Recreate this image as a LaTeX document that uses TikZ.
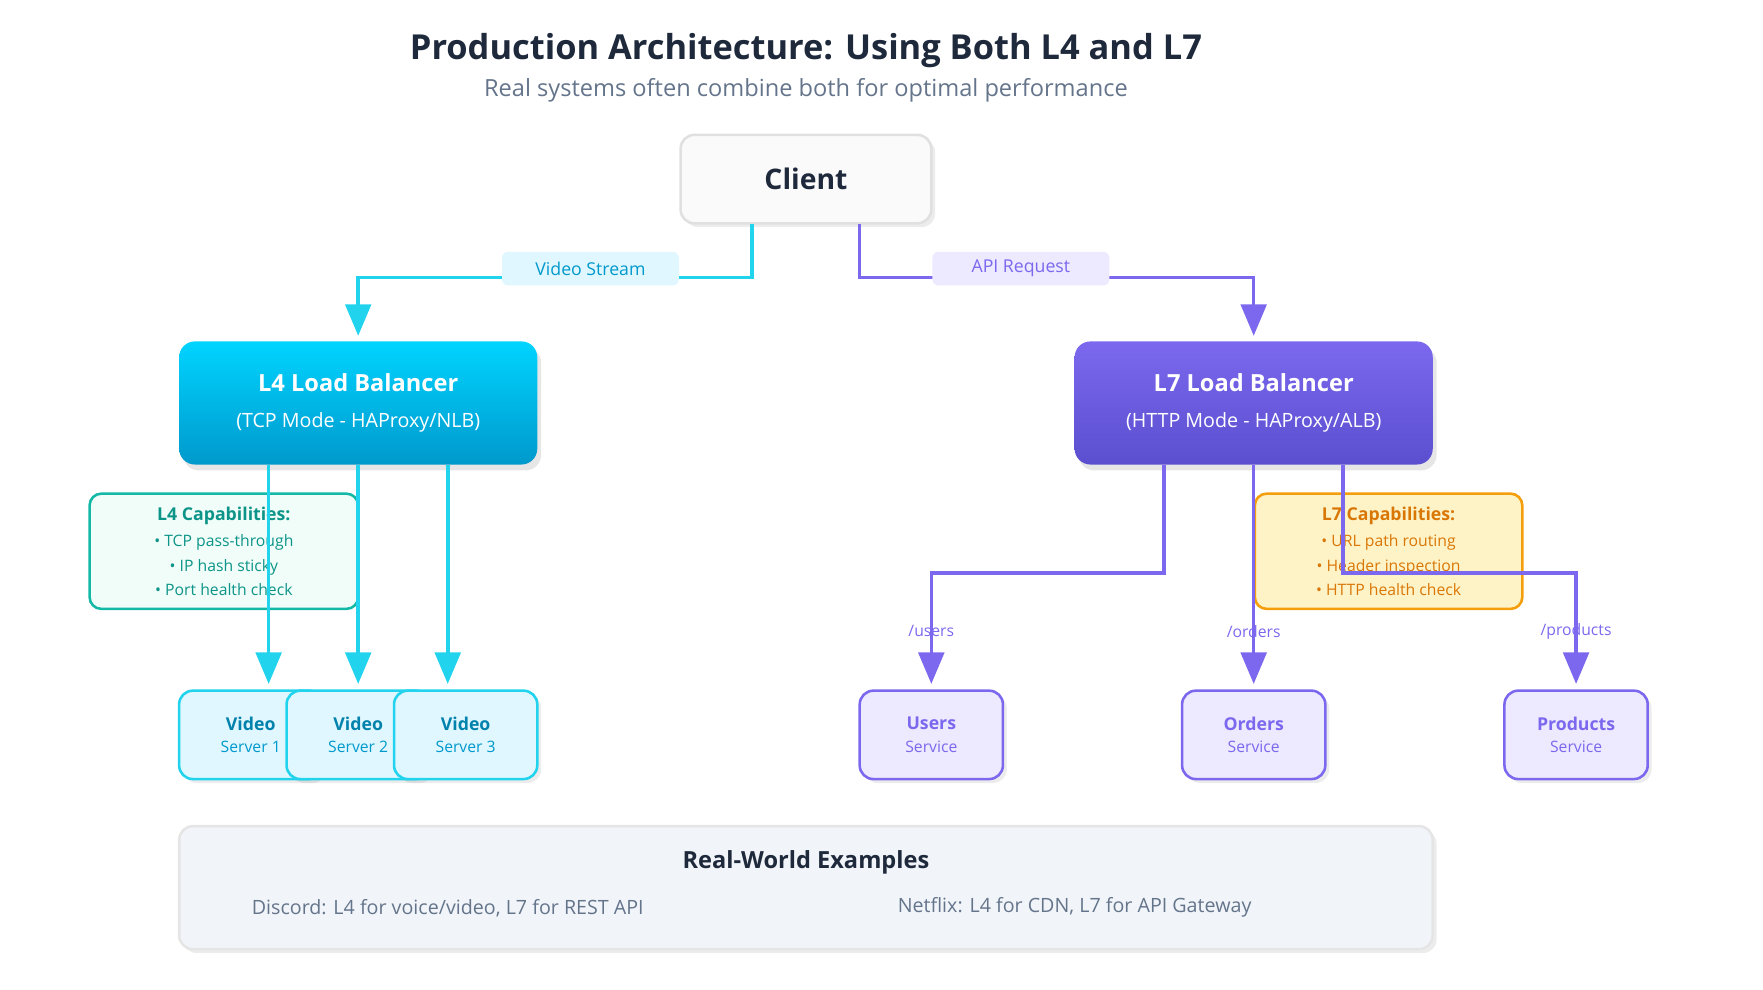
\documentclass[tikz,border=0pt]{standalone}
\usepackage{fontspec}
\setmainfont{Open Sans}
\usetikzlibrary{arrows.meta,shadows}
\definecolor{ink}{HTML}{1E293B}
\definecolor{slate}{HTML}{64748B}
\definecolor{cyanA}{HTML}{00D4FF}
\definecolor{cyanB}{HTML}{0099CC}
\definecolor{cyanL}{HTML}{E0F7FF}
\definecolor{cyanE}{HTML}{22D3EE}
\definecolor{violA}{HTML}{7B68EE}
\definecolor{violB}{HTML}{5B4FCF}
\definecolor{violL}{HTML}{EDE9FE}
\definecolor{tealT}{HTML}{0D9488}
\definecolor{tealE}{HTML}{14B8A6}
\definecolor{tealL}{HTML}{F0FDF9}
\definecolor{ambT}{HTML}{D97706}
\definecolor{ambE}{HTML}{F59E0B}
\definecolor{ambL}{HTML}{FEF3C7}
\definecolor{paleB}{HTML}{F1F5F9}
\tikzset{
  box/.style={rounded corners=7pt, line width=1.3pt, drop shadow={opacity=0.15,shadow xshift=2pt,shadow yshift=-2pt}},
  lb/.style={rounded corners=8pt, text=white, align=center, minimum width=6.4cm, minimum height=2.2cm,
    drop shadow={opacity=0.2,shadow xshift=2pt,shadow yshift=-3pt}},
  srv/.style={box, minimum width=2.56cm, minimum height=1.58cm, align=center, font=\footnotesize},
  tag/.style={rounded corners=3pt, minimum width=3.16cm, minimum height=0.6cm, font=\small},
  l4/.style={line width=1.8pt, draw=cyanE, -{Triangle[length=16pt,width=13pt]}},
  l7/.style={line width=1.8pt, draw=violA, -{Triangle[length=16pt,width=13pt]}},
}
\begin{document}
\begin{tikzpicture}[x=0.02cm,y=-0.02cm]
  \useasboundingbox (0,0) rectangle (1575,884);
  \node[font=\bfseries\fontsize{17.5}{22}\selectfont, text=ink] (title) at (720,45) {Production Architecture: Using Both L4 and L7};
  \node[font=\large, text=slate] (sub) at (720,81) {Real systems often combine both for optimal performance};

  \node[box, draw=black!12, fill=black!2, minimum width=4.48cm, minimum height=1.58cm, font=\bfseries\Large, text=ink] (client) at (720,160) {Client};

  \node[lb, top color=cyanA, bottom color=cyanB] (L4) at (320,360)
    {{\bfseries\large L4 Load Balancer}\\[6pt](TCP Mode - HAProxy/NLB)};
  \node[lb, top color=violA, bottom color=violB] (L7) at (1120,360)
    {{\bfseries\large L7 Load Balancer}\\[6pt](HTTP Mode - HAProxy/ALB)};

  % capability boxes
  \node[draw=tealE, fill=tealL, line width=1.3pt, rounded corners=6pt, minimum width=4.8cm, minimum height=2.06cm,
    text=tealT, align=center, font=\footnotesize] (cap4) at (200,492.5)
    {{\bfseries\small L4 Capabilities:}\\[4pt]• TCP pass-through\\[3pt]• IP hash sticky\\[3pt]• Port health check};
  \node[draw=ambE, fill=ambL, line width=1.3pt, rounded corners=6pt, minimum width=4.78cm, minimum height=2.06cm,
    text=ambT, align=center, font=\footnotesize] (cap7) at (1240.5,492.5)
    {{\bfseries\small L7 Capabilities:}\\[4pt]• URL path routing\\[3pt]• Header inspection\\[3pt]• HTTP health check};

  % client links
  \coordinate (v1) at (672,200);
  \coordinate (a1) at (768,200);
  \draw[l4] (v1) -- (672,248) -- (320,248) -- (320,300);
  \draw[l7] (a1) -- (768,248) -- (1120,248) -- (1120,300);
  \node[tag, fill=cyanL, text=cyanB] (vtag) at (527.5,240) {Video Stream};
  \node[tag, fill=violL, text=violA] (atag) at (912,240) {API Request};

  % L4 to servers
  \foreach \x in {240,320,400}
    \draw[l4] (\x,415) -- (\x,611);

  % L7 to services
  \draw[l7] (1040,415) -- (1040,512) -- (832,512) -- (832,611);
  \draw[l7] (1120,415) -- (1120,611);
  \draw[l7] (1200,415) -- (1200,512) -- (1408,512) -- (1408,611);
  \node[font=\footnotesize, text=violA] (pu) at (832,564) {/users};
  \node[font=\footnotesize, text=violA] (po) at (1120,564) {/orders};
  \node[font=\footnotesize, text=violA] (pp) at (1408,564) {/products};

  % servers
  \foreach \i/\x in {1/224,2/320,3/416}
    \node[srv, draw=cyanE, fill=cyanL, text=cyanB] (vs\i) at (\x,656.5)
      {{\bfseries\small\color{cyanB!85!black}Video}\\[2pt]Server \i};
  \node[srv, draw=violA, fill=violL, text=violA] (us) at (832,656.5) {{\bfseries\small Users}\\[2pt]Service};
  \node[srv, draw=violA, fill=violL, text=violA] (os) at (1120,656.5) {{\bfseries\small Orders}\\[2pt]Service};
  \node[srv, draw=violA, fill=violL, text=violA] (ps) at (1408,656.5) {{\bfseries\small Products}\\[2pt]Service};

  % examples
  \node[box, draw=black!10, fill=paleB, minimum width=22.4cm, minimum height=2.2cm] (ex) at (720,793) {};
  \node[font=\bfseries\large, text=ink] (ext) at (720,770) {Real-World Examples};
  \node[text=slate] (ex1) at (400,811) {Discord: L4 for voice/video, L7 for REST API};
  \node[text=slate] (ex2) at (960,811) {Netflix: L4 for CDN, L7 for API Gateway};
\end{tikzpicture}
\end{document}
